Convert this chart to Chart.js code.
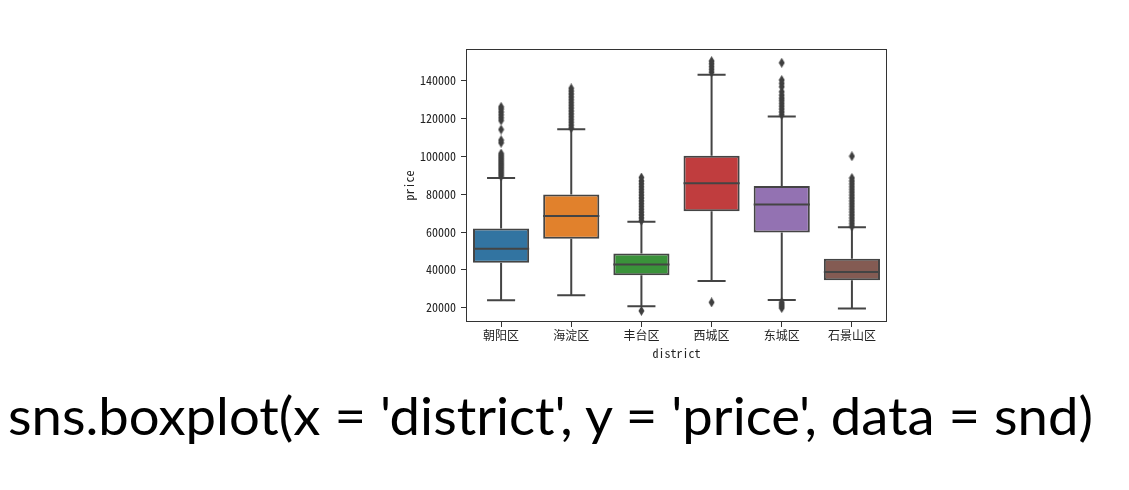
<!DOCTYPE html>
<html>
<head>
<meta charset="utf-8">
<script src="https://cdn.jsdelivr.net/npm/chart.js@4/dist/chart.umd.min.js"></script>
<style>
  html, body { margin: 0; padding: 0; background: #fff; width: 1129px; height: 490px; overflow: hidden; }
  #wrap { position: absolute; left: 0; top: 0; width: 1129px; height: 380px; }
  #caption {
    position: absolute; left: 8px; top: 388px;
    font-family: Lato, "Open Sans", sans-serif; font-size: 53px; line-height: 53px;
    color: #000; white-space: nowrap; transform-origin: 0 0;
  }
</style>
</head>
<body>
<div id="wrap"><canvas id="box" width="1129" height="380"></canvas></div>
<div id="caption">sns.boxplot(x = 'district', y = 'price', data = snd)</div>
<script>
/* ===== DATA ===== */
const districts = ["朝阳区", "海淀区", "丰台区", "西城区", "东城区", "石景山区"];
const q1 = [43800, 56400, 37100, 71000, 59700, 34500];
const median = [51200, 68500, 42800, 85800, 74500, 38900];
const q3 = [61800, 79800, 48600, 100300, 84400, 45900];
const whiskerLo = [23900, 26500, 20700, 34100, 24100, 19500];
const whiskerHi = [88600, 114400, 65400, 143200, 121100, 62500];
const yTicks = [20000, 40000, 60000, 80000, 100000, 120000, 140000];

// outliers per district
const chaoyangOut = [89500, 90500, 91500, 92500, 93500, 94500, 95500, 96500, 97500, 98500, 99500, 100500, 101500,
  107200, 108600, 114200, 119000, 120500, 122000, 123500, 125000, 126200];
const haidianOut = [115000, 116500, 118000, 119500, 121000, 122500, 124000, 125500, 127000, 128500, 130000,
  131500, 133000, 134500, 136000];
const fengtaiOut = [18300, 66000, 67500, 69000, 70500, 72000, 73500, 75000, 76500, 78000, 79500, 81000, 82500,
  84000, 85500, 87000, 88800];
const xichengOut = [22800, 144500, 146000, 147500, 149000, 150400];
const dongchengOut = [19800, 20800, 21800, 22800, 122000, 123500, 125000, 126500, 128000, 129500, 130800,
  132400, 134200, 136800, 138600, 140400, 149500];
const shijingshanOut = [63000, 64500, 66000, 67500, 69000, 70500, 72000, 73500, 75000, 76500, 78000, 79500,
  81000, 82500, 84000, 85500, 87000, 88600, 100100];
const outliers = [chaoyangOut, haidianOut, fengtaiOut, xichengOut, dongchengOut, shijingshanOut];

const boxColors = ["#3274a1", "#e1812c", "#3a923a", "#c03d3e", "#9372b2", "#845b53"];
const lineColor = "#444444";
const tickFont = { family: "'Noto Sans Mono CJK SC', 'DejaVu Sans Mono', 'Noto Sans CJK SC', monospace", size: 12 };

/* ===== thin diamond marker (seaborn 'd') ===== */
const diamond = document.createElement("canvas");
diamond.width = 7; diamond.height = 10;
const dc = diamond.getContext("2d");
dc.fillStyle = "#3f3f3f";
dc.beginPath();
dc.moveTo(3.5, 0); dc.lineTo(6.5, 5); dc.lineTo(3.5, 10); dc.lineTo(0.5, 5);
dc.closePath(); dc.fill();

let outPoints = [];
outliers.forEach((arr, i) => arr.forEach(v => outPoints.push({ x: districts[i], y: v })));

/* ===== whiskers, medians, frame ===== */
const boxParts = {
  id: "boxParts",
  beforeDatasetsDraw(chart) {
    const { ctx, scales: { x, y } } = chart;
    const meta = chart.getDatasetMeta(0);
    ctx.save();
    ctx.strokeStyle = lineColor;
    ctx.lineWidth = 2;
    districts.forEach((d, i) => {
      const cx = x.getPixelForValue(i);
      const half = meta.data[i].width / 4;
      const hi = y.getPixelForValue(whiskerHi[i]);
      const lo = y.getPixelForValue(whiskerLo[i]);
      ctx.beginPath();
      ctx.moveTo(cx, y.getPixelForValue(q3[i])); ctx.lineTo(cx, hi);
      ctx.moveTo(cx, y.getPixelForValue(q1[i])); ctx.lineTo(cx, lo);
      ctx.moveTo(cx - half, hi); ctx.lineTo(cx + half, hi);
      ctx.moveTo(cx - half, lo); ctx.lineTo(cx + half, lo);
      ctx.stroke();
    });
    ctx.restore();
  },
  afterDatasetDraw(chart, args) {
    if (args.index !== 0) return;
    const { ctx, scales: { x, y } } = chart;
    const meta = chart.getDatasetMeta(0);
    ctx.save();
    ctx.strokeStyle = lineColor;
    ctx.lineWidth = 2;
    districts.forEach((d, i) => {
      const cx = x.getPixelForValue(i);
      const half = meta.data[i].width / 2;
      const m = y.getPixelForValue(median[i]);
      ctx.beginPath();
      ctx.moveTo(cx - half, m); ctx.lineTo(cx + half, m);
      ctx.stroke();
    });
    ctx.restore();
  },
  afterDraw(chart) {
    const { ctx, chartArea: a } = chart;
    ctx.save();
    ctx.strokeStyle = "#333";
    ctx.lineWidth = 1;
    ctx.strokeRect(a.left + 0.5, a.top + 0.5, a.right - a.left - 1, a.bottom - a.top - 1);
    ctx.restore();
  }
};

new Chart(document.getElementById("box").getContext("2d"), {
  type: "bar",
  data: {
    labels: districts,
    datasets: [
      {
        data: districts.map((d, i) => [q1[i], q3[i]]),
        backgroundColor: boxColors,
        borderColor: lineColor,
        borderWidth: 2,
        borderSkipped: false,
        barPercentage: 0.8,
        categoryPercentage: 1
      },
      {
        type: "line",
        data: outPoints,
        showLine: false,
        pointStyle: diamond,
        pointRadius: 4,
        pointHoverRadius: 4
      }
    ]
  },
  options: {
    responsive: false,
    devicePixelRatio: 1,
    animation: false,
    events: [],
    layout: { padding: { left: 402, right: 242, top: 49, bottom: 19 } },
    plugins: { legend: { display: false }, tooltip: { enabled: false } },
    scales: {
      x: {
        border: { display: false },
        grid: { drawOnChartArea: false, offset: false, tickLength: 5, color: "#333" },
        ticks: { font: tickFont, color: "#222", padding: 1, maxRotation: 0 },
        title: { display: true, text: "district", font: tickFont, color: "#222", padding: 0 },
        afterFit(s) { s.height = 39; }
      },
      y: {
        min: 12400,
        max: 156800,
        border: { display: false },
        grid: { drawOnChartArea: false, tickLength: 5, color: "#333" },
        ticks: { font: tickFont, color: "#222", padding: 5, callback: v => String(v) },
        afterBuildTicks(s) { s.ticks = yTicks.map(v => ({ value: v })); },
        title: { display: true, text: "price", font: tickFont, color: "#222", padding: 0 },
        afterFit(s) { s.width = 64; }
      }
    }
  },
  plugins: [boxParts]
});

/* ===== fit caption to the reference width ===== */
const cap = document.getElementById("caption");
const w = cap.getBoundingClientRect().width;
cap.style.transform = "scaleX(" + (1085 / w) + ")";
</script>
</body>
</html>
